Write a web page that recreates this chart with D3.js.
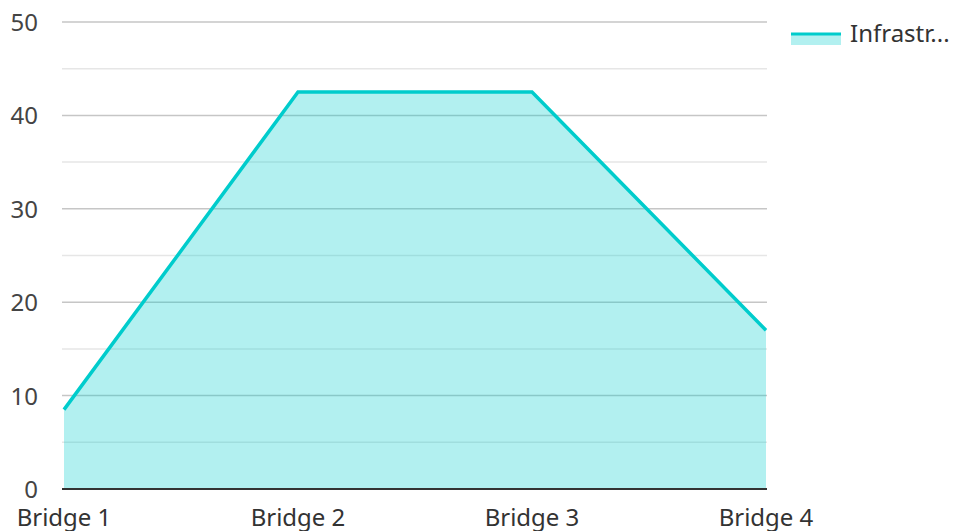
<!DOCTYPE html>
<html><head><meta charset="utf-8">
<script src="https://cdn.jsdelivr.net/npm/d3@7"></script>
<style>body{margin:0;background:#fff;}svg{display:block;font-family:"Noto Sans",sans-serif;}</style>
</head><body>
<svg id="c" width="956" height="531"></svg>
<script>
const categories = ["Bridge 1","Bridge 2","Bridge 3","Bridge 4"];
const values = [8.5, 42.5, 42.5, 17];
const majorTicks = [0,10,20,30,40,50];
const minorTicks = [5,15,25,35,45];
const seriesName = "Infrastr...";

const svg = d3.select("#c");
const x = d3.scalePoint().domain(categories).range([64,766]);
const y = d3.scaleLinear().domain([0,50]).range([489,22]);

svg.append("g").selectAll("line").data(minorTicks).join("line")
  .attr("x1",62).attr("x2",767).attr("y1",d=>y(d)).attr("y2",d=>y(d))
  .attr("stroke","#e6e6e6").attr("stroke-width",1.5);
svg.append("g").selectAll("line").data(majorTicks.filter(d=>d>0)).join("line")
  .attr("x1",62).attr("x2",767).attr("y1",d=>y(d)).attr("y2",d=>y(d))
  .attr("stroke","#c6c6c6").attr("stroke-width",1.5);

const data = categories.map((c,i)=>({c,v:values[i]}));
svg.append("path").datum(data)
  .attr("d", d3.area().x(d=>x(d.c)).y0(y(0)).y1(d=>y(d.v)))
  .attr("fill","#00cccc").attr("fill-opacity",0.3);
svg.append("path").datum(data)
  .attr("d", d3.line().x(d=>x(d.c)).y(d=>y(d.v)))
  .attr("fill","none").attr("stroke","#00cccc").attr("stroke-width",3.5);

svg.append("line").attr("x1",62).attr("x2",767).attr("y1",y(0)).attr("y2",y(0))
  .attr("stroke","#333").attr("stroke-width",2);

svg.append("g").selectAll("text").data(majorTicks).join("text")
  .attr("x",38).attr("y",d=>y(d)+9).attr("text-anchor","end")
  .attr("font-size",24).attr("fill","#444").text(d=>d);
svg.append("g").selectAll("text").data(categories).join("text")
  .attr("x",d=>x(d)).attr("y",526).attr("text-anchor","middle")
  .attr("font-size",24).attr("fill","#333").text(d=>d);

const lg = svg.append("g");
lg.append("rect").attr("x",791).attr("y",34).attr("width",50).attr("height",11)
  .attr("fill","#00cccc").attr("fill-opacity",0.3);
lg.append("line").attr("x1",791).attr("x2",841).attr("y1",34).attr("y2",34)
  .attr("stroke","#00cccc").attr("stroke-width",3);
lg.append("text").attr("x",850).attr("y",42).attr("font-size",24).attr("fill","#333").text(seriesName);
</script>
</body></html>
